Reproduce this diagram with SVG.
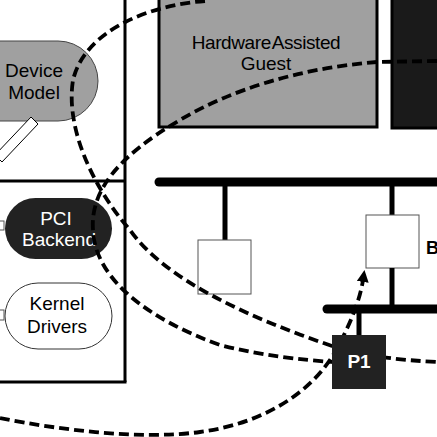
<svg xmlns="http://www.w3.org/2000/svg" width="437" height="437" viewBox="0 0 437 437">
<defs>
<style>
.lbl{font-family:"Liberation Sans",Arial,sans-serif;font-size:19px;text-anchor:middle}
.wall{fill:none;stroke:#000;stroke-width:3}
.bus{stroke:#000;stroke-width:9;stroke-linecap:round;fill:none}
.stub{stroke:#000;stroke-width:5;fill:none}
.dev{fill:#fff;stroke:#555;stroke-width:1}
.dash{fill:none;stroke:#000;stroke-width:3.8;stroke-dasharray:10 5}
</style>
<marker id="ah" viewBox="0 0 12 12" refX="2" refY="6" markerWidth="12" markerHeight="12" markerUnits="userSpaceOnUse" orient="auto">
<path d="M0,0 L12,6 L0,12 Z" fill="#000"/>
</marker>
</defs>
<rect width="437" height="437" fill="#fff"/>
<g id="domain">
<line class="wall" x1="125" y1="0" x2="125" y2="382"/>
<line class="wall" x1="0" y1="181" x2="125" y2="181"/>
<line class="wall" x1="0" y1="382" x2="126.5" y2="382"/>
</g>
<g id="device-model">
<rect x="-40" y="41" width="138" height="80" rx="40" fill="#a0a0a0" stroke="#444" stroke-width="1"/>
<polygon points="31,117 38,124 2,162 -5,155" fill="#fff" stroke="#000" stroke-width="1"/>
<text class="lbl" x="34" y="77">Device</text>
<text class="lbl" x="34" y="99">Model</text>
</g>
<g id="pci-backend">
<rect x="5" y="198" width="107" height="61" rx="30.5" fill="#222"/>
<rect x="-2" y="221" width="6" height="9" fill="#fff" stroke="#555" stroke-width="1"/>
<text class="lbl" x="56" y="225" fill="#fff" font-size="18">PCI</text>
<text class="lbl" x="59" y="246" fill="#fff" font-size="18">Backend</text>
</g>
<g id="kernel-drivers">
<rect x="5" y="283" width="107" height="66" rx="33" fill="#fff" stroke="#333" stroke-width="1"/>
<rect x="-2" y="310" width="6" height="10" fill="#fff" stroke="#555" stroke-width="1"/>
<text class="lbl" x="57" y="310" font-size="20">Kernel</text>
<text class="lbl" x="57" y="333" font-size="20">Drivers</text>
</g>
<g id="hvm-guest">
<rect x="159" y="-5" width="218" height="132" fill="#a0a0a0" stroke="#000" stroke-width="3"/>
<text class="lbl" x="266" y="49" letter-spacing="-0.4" word-spacing="-3">Hardware Assisted</text>
<text class="lbl" x="266" y="70">Guest</text>
</g>
<g id="dark-guest">
<rect x="392" y="-5" width="50" height="133" fill="#1a1a1a" stroke="#000" stroke-width="3"/>
</g>
<g id="bus-1">
<line class="bus" x1="159" y1="182" x2="442" y2="182"/>
<line class="stub" x1="225" y1="182" x2="225" y2="240"/>
<line class="stub" x1="392" y1="182" x2="392" y2="215"/>
</g>
<g id="device-a">
<rect class="dev" x="198" y="240" width="53" height="54"/>
</g>
<g id="bridge">
<rect class="dev" x="366" y="215" width="53" height="53"/>
<line class="stub" x1="392" y1="268" x2="392" y2="309"/>
<text x="426" y="254" font-family="Liberation Sans,Arial,sans-serif" font-size="18" font-weight="bold">B</text>
</g>
<g id="bus-2">
<line class="bus" x1="327" y1="309" x2="442" y2="309"/>
<line class="stub" x1="359" y1="309" x2="359" y2="335"/>
</g>
<g id="connectors">
<path class="dash" d="M205,1 C150,5 85,30 73,80 C65,130 95,190 130,230 C165,280 250,318 332,346 C370,357 400,360 437,362"/>
<path class="dash" d="M437,61 L377,62 C300,68 230,90 180,120 C120,155 90,190 93,230 C95,280 150,320 220,345 C260,355 300,360 334,362" marker-end="url(#ah)"/>
<path class="dash" d="M0,418 C60,430 140,440 200,432 C260,424 310,395 335,352 C350,325 360,300 363,280" marker-end="url(#ah)"/>
</g>
<g id="p1">
<rect x="332" y="335" width="54" height="54" fill="#222"/>
<text class="lbl" x="359" y="368" fill="#fff" font-weight="bold" font-size="18">P1</text>
</g>
</svg>
